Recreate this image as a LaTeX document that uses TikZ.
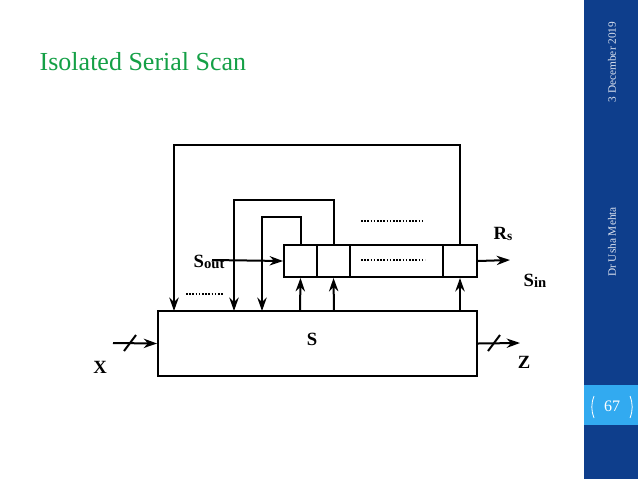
\documentclass[tikz,border=0pt]{standalone}
\usepackage{fontspec}
\setmainfont{Liberation Serif}
\usetikzlibrary{arrows.meta}
\definecolor{sidebar}{RGB}{14,62,140}
\definecolor{pagebox}{RGB}{50,170,240}
\definecolor{titlegreen}{RGB}{20,160,70}
\begin{document}
\begin{tikzpicture}[x=0.75pt,y=-0.75pt,
  wire/.style={line width=1.5pt},
  arr/.style={wire,-{Stealth[length=10pt,width=7pt]}},
  blk/.style={draw,line width=1.5pt,inner sep=0pt},
  lbl/.style={font=\bfseries\fontsize{14}{14}\selectfont},
  dotsty/.style={line width=1.6pt,dash pattern=on 1.2pt off 1.2pt}]
\useasboundingbox (0,0) rectangle (638,479);
\fill[white] (0,0) rectangle (638,479);
\fill[sidebar] (584,0) rectangle (638,479);
\fill[pagebox] (584,385) rectangle (638,425);
\node[rotate=90,text=white!85!sidebar,font=\fontsize{8.5}{8.5}\selectfont] (date) at (612,62) {3 December 2019};
\node[rotate=90,text=white!85!sidebar,font=\fontsize{8.5}{8.5}\selectfont] (auth) at (612,242) {Dr Usha Mehta};
\node[text=white,font=\fontsize{12}{12}\selectfont] (pg) at (612,406) {67};
\draw[white,line width=0.6pt] (594,396) to[bend right=20] (594,418);
\draw[white,line width=0.6pt] (630,396) to[bend left=20] (630,418);
\node[anchor=west,text=titlegreen,font=\fontsize{19.5}{19.5}\selectfont] (title) at (35,62) {Isolated Serial Scan};

% S block
\node[blk,minimum width=239.25pt,minimum height=48.75pt] (S) at (317.5,343.5) {};
\node[lbl] (Slbl) at (312,339) {S};
% register
\node[blk,minimum width=24.75pt,minimum height=24pt] (c1) at (300.5,261) {};
\node[blk,minimum width=24.75pt,minimum height=24pt] (c2) at (333.5,261) {};
\node[blk,minimum width=69.75pt,minimum height=24pt] (c3) at (396.5,261) {};
\node[blk,minimum width=25.5pt,minimum height=24pt] (c4) at (460,261) {};
\coordinate (t1) at (174,145); \coordinate (t2) at (460,145);
\draw[arr] (c4.north) |- (t2) -- (t1) -- (174,311);
\draw[arr] (c2.north) |- (234,200) -- (234,311);
\draw[arr] (c1.north) |- (262,217) -- (262,311);
\draw[arr] (300,311) -- (c1.south);
\draw[arr] (334,311) -- (c2.south);
\draw[arr] (460,311) -- (c4.south);
\coordinate (soutstart) at (212,260);
\draw[arr] (soutstart) -- (c1.west);
\node[lbl,anchor=west] (Sout) at (189,262) {S\raisebox{-0.5pt}{\fontsize{11}{11}\selectfont out}};
\coordinate (sinend) at (510,260);
\draw[arr] (c4.east) -- (sinend);
\node[lbl] (Rs) at (503,234) {R\raisebox{-0.5pt}{\fontsize{10}{10}\selectfont s}};
\node[lbl] (Sin) at (535,281) {S\raisebox{-0.5pt}{\fontsize{11}{11}\selectfont in}};
\draw[dotsty] (186,294) -- (224,294);
\draw[dotsty] (361,221) -- (422,221);
\draw[dotsty] (361,260) -- (425,260);
% X and Z
\coordinate (xin) at (113,343);
\draw[arr] (xin) -- (S.west);
\draw[wire] (124,351) -- (136,335);
\node[lbl] (X) at (100,367) {X};
\coordinate (zout) at (520,343);
\draw[arr] (S.east) -- (zout);
\draw[wire] (488,351) -- (500,335);
\node[lbl] (Z) at (524,362) {Z};
\end{tikzpicture}
\end{document}
